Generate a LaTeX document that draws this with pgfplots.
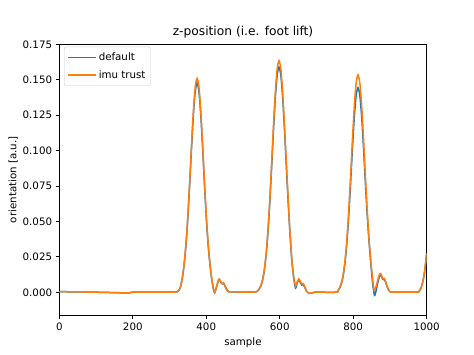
\documentclass[border=0pt]{standalone}
\usepackage{pgfplots}
\pgfplotsset{compat=1.18}
\usepackage{fontspec}
\setmainfont{DejaVu Sans}
\definecolor{cZero}{HTML}{1F77B4}
\definecolor{cOne}{HTML}{FF7F0E}
\pgfplotstableread{
x y
0 0.0005
50 0.0003
100 0.0001
150 -0.0002
190 -0.0004
200 0.0002
250 0.0002
300 0.0002
320 0.0003
325 0.0012
330 0.0040
335 0.0103
340 0.0200
345 0.0340
350 0.0532
355 0.0768
360 0.1023
365 0.1254
370 0.1418
375 0.1477
380 0.1418
385 0.1254
390 0.1023
395 0.0768
400 0.0532
405 0.0340
410 0.0200
415 0.0092
420 0.0018
423 -0.0002
428 0.0038
434 0.0090
437 0.0085
441 0.0066
444 0.0060
447 0.0064
451 0.0044
456 0.0018
461 0.0005
470 0.0003
530 0.0002
538 0.0006
543 0.0019
548 0.0042
553 0.0083
558 0.0154
563 0.0265
568 0.0426
573 0.0638
578 0.0886
583 0.1144
588 0.1373
593 0.1532
598 0.1590
603 0.1532
608 0.1373
613 0.1144
618 0.0886
623 0.0638
628 0.0408
633 0.0224
638 0.0100
643 0.0030
647 0.0062
652 0.0088
656 0.0070
660 0.0052
664 0.0056
668 0.0036
673 0.0008
680 -0.0008
687 -0.0004
695 0.0000
700 0.0001
755 0.0001
759 0.0012
763 0.0030
768 0.0064
773 0.0122
778 0.0218
783 0.0359
788 0.0550
793 0.0778
798 0.1021
803 0.1238
808 0.1390
813 0.1444
818 0.1390
823 0.1238
828 0.1021
833 0.0778
838 0.0550
843 0.0359
848 0.0200
853 0.0060
858 -0.0022
862 0.0010
867 0.0070
872 0.0118
875 0.0122
879 0.0098
882 0.0090
885 0.0092
889 0.0066
894 0.0028
900 0.0005
910 0.0001
975 0.0002
980 0.0010
985 0.0035
990 0.0080
995 0.0160
1000 0.0274
}\tblDefault
\pgfplotstableread{
x y
0 0.0005
50 0.0003
100 0.0001
150 -0.0002
190 -0.0004
200 0.0002
250 0.0002
300 0.0002
320 0.0003
325 0.0012
330 0.0040
335 0.0105
340 0.0205
345 0.0350
350 0.0545
355 0.0785
360 0.1046
365 0.1282
370 0.1450
375 0.1510
380 0.1450
385 0.1282
390 0.1046
395 0.0785
400 0.0545
405 0.0350
410 0.0205
415 0.0095
420 0.0020
423 0.0000
428 0.0040
434 0.0093
437 0.0088
441 0.0068
444 0.0062
447 0.0066
451 0.0045
456 0.0018
461 0.0005
470 0.0003
530 0.0002
538 0.0006
543 0.0020
548 0.0043
553 0.0085
558 0.0158
563 0.0273
568 0.0438
573 0.0656
578 0.0912
583 0.1177
588 0.1413
593 0.1576
598 0.1635
603 0.1576
608 0.1413
613 0.1177
618 0.0912
623 0.0656
628 0.0420
633 0.0230
638 0.0110
643 0.0045
647 0.0070
652 0.0095
656 0.0078
660 0.0060
664 0.0062
668 0.0040
673 0.0010
680 -0.0007
687 -0.0004
695 0.0000
700 0.0001
755 0.0001
759 0.0013
763 0.0032
768 0.0068
773 0.0130
778 0.0232
783 0.0382
788 0.0585
793 0.0827
798 0.1085
803 0.1316
808 0.1477
813 0.1535
818 0.1477
823 0.1316
828 0.1085
833 0.0827
838 0.0585
843 0.0382
848 0.0220
853 0.0090
857 0.0016
862 0.0040
867 0.0090
872 0.0130
875 0.0133
879 0.0105
882 0.0095
885 0.0098
889 0.0070
894 0.0030
900 0.0005
910 0.0001
975 0.0002
980 0.0010
985 0.0035
990 0.0080
995 0.0160
1000 0.0274
}\tblImu
\begin{document}
\fontsize{10.3}{12.4}\selectfont
\begin{tikzpicture}
\useasboundingbox (0,0) rectangle (474bp,355bp);
\begin{axis}[
  at={(59.3bp,39.7bp)}, anchor=south west,
  scale only axis, width=367.4bp, height=271.3bp,
  xmin=0, xmax=1000, ymin=-0.0162, ymax=0.1752,
  xtick={0,200,400,600,800,1000},
  ytick={0,0.025,0.05,0.075,0.1,0.125,0.15,0.175},
  scaled y ticks=false,
  /pgf/number format/assume math mode=true,
  y tick label style={/pgf/number format/.cd, fixed, fixed zerofill, precision=3},
  x tick label style={/pgf/number format/.cd, fixed, 1000 sep={}},
  tick align=outside, tick pos=left,
  major tick length=3.6bp,
  every tick/.style={black, line width=0.8bp},
  axis line style={line width=0.8bp, black},
  ticklabel style={font=\fontsize{10.3}{12.4}\selectfont},
  title={z-position (i.e. foot lift)},
  title style={font=\fontsize{12.3}{14.8}\selectfont, at={(0.5,1)}, anchor=south, yshift=-4bp},
  xlabel={sample}, ylabel={orientation [a.u.]},
  label style={font=\fontsize{10.3}{12.4}\selectfont},
  xlabel style={yshift=0bp},
  ylabel style={yshift=-2bp},
  legend style={font=\fontsize{10.3}{12.4}\selectfont, draw=black!20, rounded corners=2bp, fill=white, fill opacity=0.8, text opacity=1, inner xsep=3bp, inner ysep=4bp, row sep=4bp, at={(0.013,0.99)}, anchor=north west},
  legend cell align=left,
  legend image code/.code={\path (-1bp,0) -- (27bp,0); \draw[#1, line width=1.5bp] (0bp,0bp) -- (23bp,0bp);},
]
\addplot[cZero, line width=1.5bp, smooth, tension=0.4] table {\tblDefault};
\addlegendentry{default}
\addplot[cOne, line width=1.5bp, smooth, tension=0.4] table {\tblImu};
\addlegendentry{imu trust}
\end{axis}
\end{tikzpicture}
\end{document}
